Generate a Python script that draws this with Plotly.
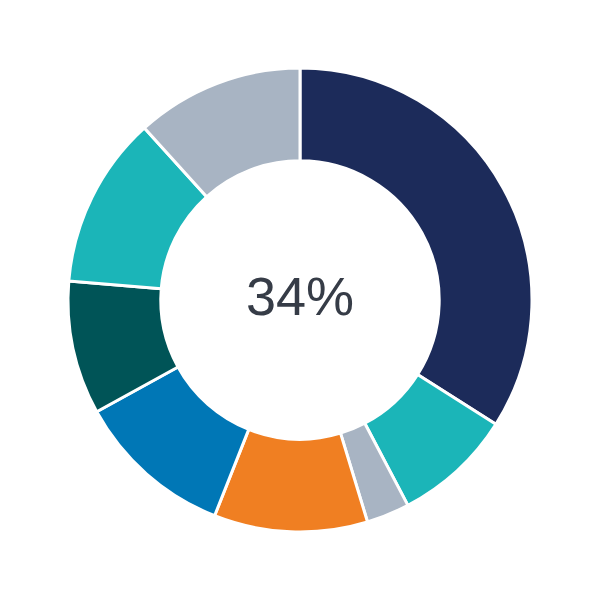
import plotly.graph_objects as go

labels = ["A", "B", "C", "D", "E", "F", "G", "H"]
values = [34, 8.3, 3.0, 10.7, 11.0, 9.3, 12.0, 11.7]
colors = ["#1c2b5a", "#1bb5b8", "#a8b4c3", "#f07f22", "#0077b6", "#005457", "#1bb5b8", "#a8b4c3"]
center_text = "34%"

fig = go.Figure(go.Pie(
    labels=labels,
    values=values,
    hole=0.6,
    sort=False,
    direction="clockwise",
    rotation=0,
    textinfo="none",
    marker=dict(colors=colors, line=dict(color="white", width=3)),
    showlegend=False,
))
fig.add_annotation(text=center_text, x=0.5, y=0.5, xref="paper", yref="paper", yshift=4,
                   showarrow=False, font=dict(family="Liberation Sans, Arial", size=54, color="#363c47"))
fig.update_layout(width=600, height=600, margin=dict(l=60, r=76, t=60, b=76),
                  paper_bgcolor="white", plot_bgcolor="white")
fig.write_html("out.html")
